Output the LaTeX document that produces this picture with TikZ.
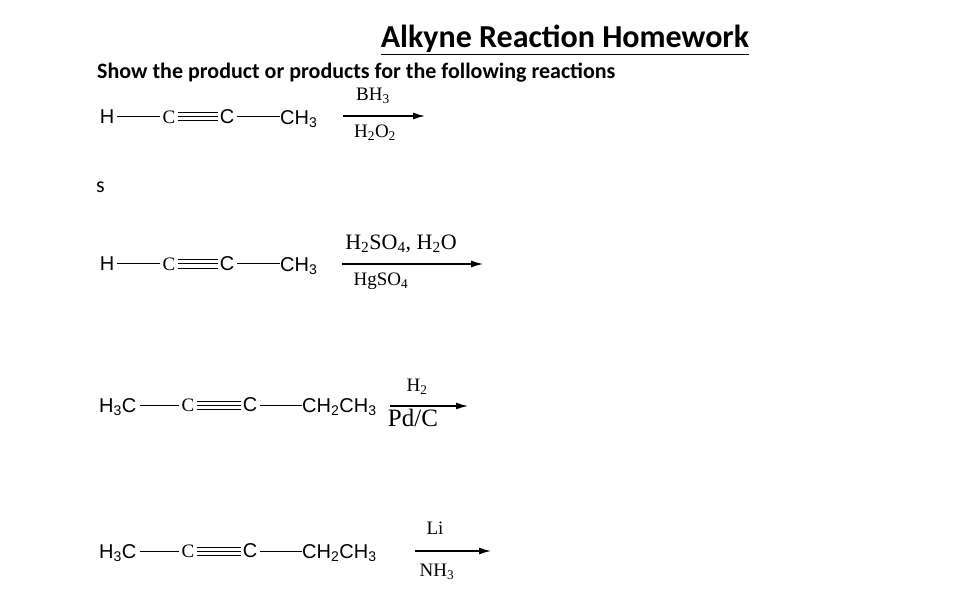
\documentclass[tikz,border=0pt]{standalone}
\usepackage{fontspec}
\usetikzlibrary{arrows.meta}
\setmainfont{Liberation Serif}
\newfontfamily\atomf{Liberation Sans}
\newfontfamily\headf{Carlito}
\newcommand\sbs[1]{\textsubscript{#1}}
\begin{document}
\begin{tikzpicture}[x=1pt,y=-1pt,
  atom/.style={inner sep=0pt,font=\atomf\fontsize{20}{20}\selectfont},
  satom/.style={inner sep=0pt,font=\fontsize{19}{19}\selectfont},
  reag/.style={inner sep=0pt,font=\fontsize{19}{19}\selectfont},
  bond/.style={line width=1pt},
  rarrow/.style={line width=1.3pt,-{Latex[length=12pt,width=7pt]}}]
\useasboundingbox[fill=white] (0,0) rectangle (955,612);
\node[inner sep=0pt,font=\headf\bfseries\fontsize{32}{32}\selectfont] (title) at (565,40) {\underline{Alkyne Reaction Homework}};
\node[inner sep=0pt,anchor=west,font=\headf\bfseries\fontsize{22}{22}\selectfont] (sub) at (97,73) {Show the product or products for the following reactions};
\node[inner sep=0pt,anchor=west,font=\headf\fontsize{22}{22}\selectfont] (s) at (96,187) {s};
% reaction 1 and 2
\foreach \y/\n in {117/a,264/b}{
  \node[atom] (H\n) at (107,\y) {H};
  \node[satom] (C1\n) at (169,\y) {C};
  \node[atom] (C2\n) at (227,\y) {C};
  \node[atom,anchor=west] (M\n) at (280,\y+2) {CH\sbs{3}};
  \draw[bond] ([xshift=3]H\n.east) -- ([xshift=-2]C1\n.west);
  \foreach \d in {-4,0,4} \draw[bond] ([xshift=2,yshift=\d]C1\n.east) -- ([xshift=-2,yshift=\d]C2\n.west);
  \draw[bond] ([xshift=3]C2\n.east) -- (M\n.west |- C2\n.east);
}
% reaction 3 and 4
\foreach \y/\n in {405/c,551/d}{
  \node[atom,anchor=west] (L\n) at (99,\y+2) {H\sbs{3}C};
  \node[satom] (C1\n) at (188,\y) {C};
  \node[atom] (C2\n) at (250,\y) {C};
  \node[atom,anchor=west] (R\n) at (302,\y+2) {CH\sbs{2}CH\sbs{3}};
  \draw[bond] ([xshift=3]L\n.east |- C1\n.west) -- ([xshift=-2]C1\n.west);
  \foreach \d in {-4,0,4} \draw[bond] ([xshift=2,yshift=\d]C1\n.east) -- ([xshift=-2,yshift=\d]C2\n.west);
  \draw[bond] ([xshift=3]C2\n.east) -- (R\n.west |- C2\n.east);
}
% arrows
\coordinate (a1) at (343,116); \coordinate (a2) at (425,116);
\draw[rarrow] (a1) -- (a2);
\node[reag] (r1t) at (373,96) {BH\sbs{3}};
\node[reag] (r1b) at (375,133) {H\sbs{2}O\sbs{2}};
\coordinate (b1) at (342,264); \coordinate (b2) at (483,264);
\draw[rarrow] (b1) -- (b2);
\node[reag,font=\fontsize{22}{22}\selectfont] (r2t) at (401,244) {H\sbs{2}SO\sbs{4}, H\sbs{2}O};
\node[reag] (r2b) at (381,281) {HgSO\sbs{4}};
\coordinate (c1) at (390,406); \coordinate (c2) at (468,406);
\draw[rarrow] (c1) -- (c2);
\node[reag] (r3t) at (417,387) {H\sbs{2}};
\node[reag,font=\fontsize{25}{25}\selectfont] (r3b) at (413,418) {Pd/C};
\coordinate (d1) at (415,551); \coordinate (d2) at (491,551);
\draw[rarrow] (d1) -- (d2);
\node[reag] (r4t) at (435,528) {Li};
\node[reag] (r4b) at (437,572) {NH\sbs{3}};
\end{tikzpicture}
\end{document}
